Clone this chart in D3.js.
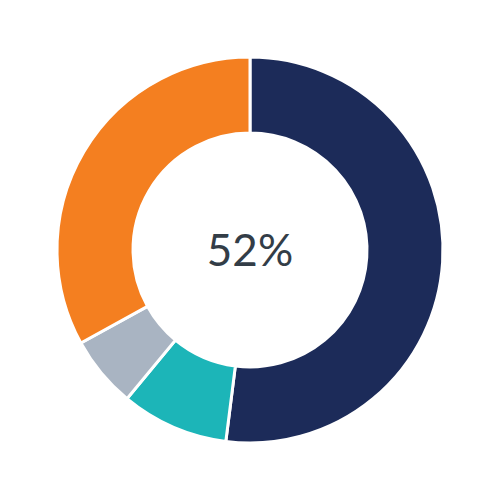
<!DOCTYPE html>
<html lang="en">
<head>
    <meta charset="UTF-8">
    <title>Donut Chart</title>
    <script src="https://d3js.org/d3.v7.min.js"></script>
    <style>
        body { margin: 0; background: #fff; }
    </style>
</head>
<body>
    <svg id="chart"></svg>
    <script>
        // shares, clockwise from 12 o'clock
        const categories = ["Navy", "Teal", "Gray", "Orange"];
        const values = [52, 9, 6, 33];
        const colors = ["#1c2b59", "#1cb5b8", "#a9b4c2", "#f47f20"];
        const centerLabel = "52%";

        const width = 500;
        const height = 500;
        const outerRadius = 193;
        const innerRadius = 117;

        const data = categories.map((c, i) => ({ name: c, value: values[i] }));

        const svg = d3.select("#chart")
                      .attr("width", width)
                      .attr("height", height)
                      .append("g")
                      .attr("transform", `translate(${width / 2},${height / 2})`);

        const color = d3.scaleOrdinal()
                        .domain(categories)
                        .range(colors);

        const pie = d3.pie()
                      .value(d => d.value)
                      .sort(null);

        const arc = d3.arc()
                      .innerRadius(innerRadius)
                      .outerRadius(outerRadius);

        svg.selectAll(".slice")
           .data(pie(data))
           .enter()
           .append("path")
           .attr("class", "slice")
           .attr("d", arc)
           .attr("fill", d => color(d.data.name))
           .attr("stroke", "#fff")
           .attr("stroke-width", 3);

        svg.append("text")
           .attr("y", 0)
           .attr("dy", "0.36em")
           .style("text-anchor", "middle")
           .style("font-family", "Lato, sans-serif")
           .style("font-size", "44px")
           .style("fill", "#333d47")
           .text(centerLabel);
    </script>
</body>
</html>
